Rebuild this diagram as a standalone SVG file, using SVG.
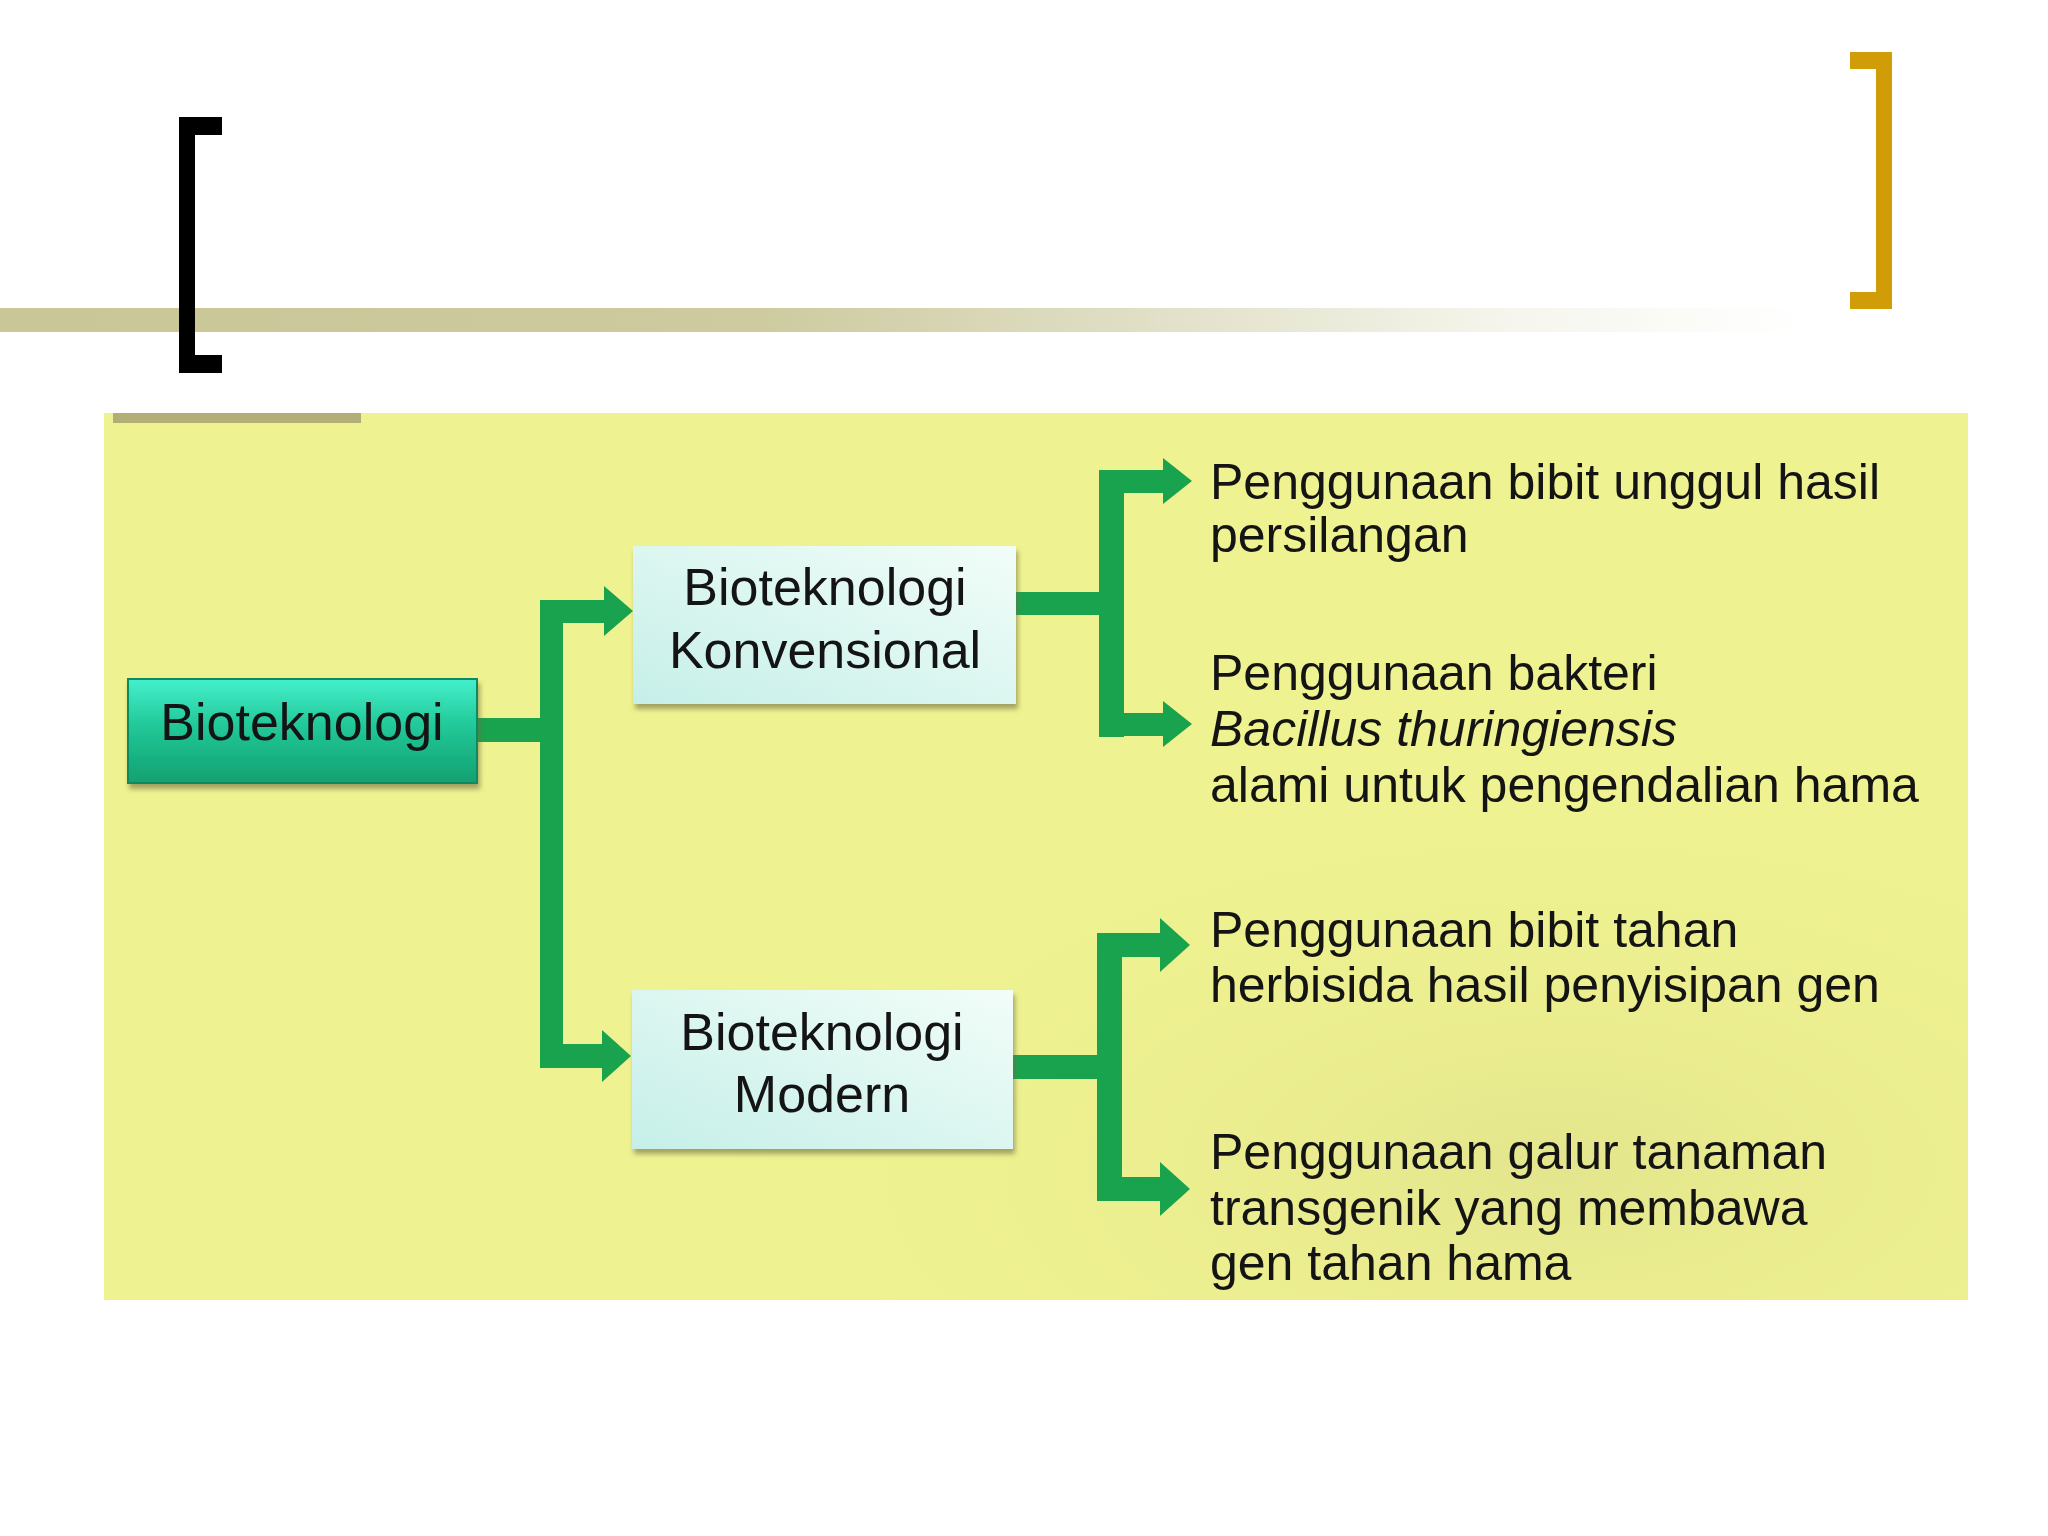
<svg xmlns="http://www.w3.org/2000/svg" width="2048" height="1536" viewBox="0 0 2048 1536">
  <style>
    .lbl { font-family: "Liberation Sans", Arial, sans-serif; fill: #141414; }
    .box { font-size: 52px; text-anchor: middle; }
    .item { font-size: 50px; }
    .conn { fill: #19a34e; }
  </style>
  <defs>
    <linearGradient id="band" x1="0" y1="0" x2="1" y2="0">
      <stop offset="0" stop-color="#c9c797"/>
      <stop offset="0.4" stop-color="#cdcb9f"/>
      <stop offset="0.6" stop-color="#e0dfc6"/>
      <stop offset="0.8" stop-color="#f6f6ee"/>
      <stop offset="0.95" stop-color="#ffffff"/>
    </linearGradient>
    <linearGradient id="green" x1="0" y1="0" x2="0" y2="1">
      <stop offset="0" stop-color="#44f0cc"/>
      <stop offset="0.45" stop-color="#22c898"/>
      <stop offset="1" stop-color="#12a070"/>
    </linearGradient>
    <linearGradient id="pale" x1="0" y1="1" x2="1" y2="0">
      <stop offset="0" stop-color="#c6efe9"/>
      <stop offset="1" stop-color="#f2fdf8"/>
    </linearGradient>
    <radialGradient id="swirl" cx="0.78" cy="0.85" r="0.45">
      <stop offset="0" stop-color="#d8d88a" stop-opacity="0.5"/>
      <stop offset="1" stop-color="#eff290" stop-opacity="0"/>
    </radialGradient>
    <filter id="shadow" x="-10%" y="-10%" width="125%" height="130%">
      <feDropShadow dx="2" dy="5" stdDeviation="2.5" flood-color="#6e6e40" flood-opacity="0.6"/>
    </filter>
  </defs>

  <rect width="2048" height="1536" fill="#ffffff"/>

  <!-- title band and brackets -->
  <rect x="0" y="308" width="1900" height="24" fill="url(#band)"/>
  <g id="bracket-left" fill="#000000">
    <rect x="179" y="117" width="16" height="256"/>
    <rect x="179" y="117" width="43" height="18"/>
    <rect x="179" y="355" width="43" height="18"/>
  </g>
  <g id="bracket-right" fill="#d09c08">
    <rect x="1876" y="52" width="16" height="257"/>
    <rect x="1850" y="52" width="42" height="17"/>
    <rect x="1850" y="292" width="42" height="17"/>
  </g>

  <!-- panel -->
  <rect x="104" y="413" width="1864" height="887" fill="#eff290"/>
  <rect x="104" y="413" width="1864" height="887" fill="url(#swirl)"/>
  <rect x="113" y="413" width="248" height="10" fill="#b3ae76"/>

  <!-- connectors -->
  <g id="connectors" class="conn">
    <rect x="477" y="718" width="86" height="24"/>
    <rect x="540" y="600" width="23" height="468"/>
    <path d="M540 600 H604 V586 L633 611 L604 636 V623 H540 Z"/>
    <path d="M540 1044 H602 V1030 L631 1056 L602 1082 V1068 H540 Z"/>

    <rect x="1016" y="592" width="108" height="23"/>
    <rect x="1099" y="470" width="25" height="267"/>
    <path d="M1099 470 H1163 V458 L1192 481 L1163 504 V493 H1099 Z"/>
    <path d="M1099 713 H1163 V701 L1192 724 L1163 747 V736 H1099 Z"/>

    <rect x="1013" y="1055" width="109" height="24"/>
    <rect x="1097" y="933" width="25" height="268"/>
    <path d="M1097 933 H1160 V918 L1190 945 L1160 972 V957 H1097 Z"/>
    <path d="M1097 1177 H1160 V1162 L1190 1189 L1160 1216 V1201 H1097 Z"/>
  </g>

  <!-- nodes -->
  <g id="node-bioteknologi">
    <rect x="128" y="679" width="349" height="104" fill="url(#green)" stroke="#0f8a60" stroke-width="2" filter="url(#shadow)"/>
    <text class="lbl box" x="302" y="740">Bioteknologi</text>
  </g>

  <g id="node-konvensional">
    <rect x="633" y="546" width="383" height="158" fill="url(#pale)" filter="url(#shadow)"/>
    <text class="lbl box" x="825" y="605">Bioteknologi</text>
    <text class="lbl box" x="825" y="668">Konvensional</text>
  </g>

  <g id="node-modern">
    <rect x="632" y="990" width="381" height="159" fill="url(#pale)" filter="url(#shadow)"/>
    <text class="lbl box" x="822" y="1050">Bioteknologi</text>
    <text class="lbl box" x="822" y="1112">Modern</text>
  </g>

  <g id="item-bibit-unggul">
    <text class="lbl item" x="1210" y="499">Penggunaan bibit unggul hasil</text>
    <text class="lbl item" x="1210" y="552">persilangan</text>
  </g>

  <g id="item-bakteri">
    <text class="lbl item" x="1210" y="690">Penggunaan bakteri</text>
    <text class="lbl item" x="1210" y="746" font-style="italic">Bacillus thuringiensis</text>
    <text class="lbl item" x="1210" y="802">alami untuk pengendalian hama</text>
  </g>

  <g id="item-bibit-tahan">
    <text class="lbl item" x="1210" y="947">Penggunaan bibit tahan</text>
    <text class="lbl item" x="1210" y="1002">herbisida hasil penyisipan gen</text>
  </g>

  <g id="item-galur">
    <text class="lbl item" x="1210" y="1169">Penggunaan galur tanaman</text>
    <text class="lbl item" x="1210" y="1225">transgenik yang membawa</text>
    <text class="lbl item" x="1210" y="1280">gen tahan hama</text>
  </g>
</svg>
